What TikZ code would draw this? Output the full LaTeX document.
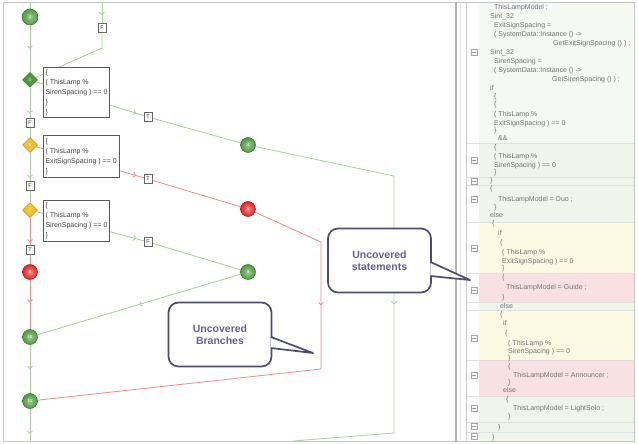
\documentclass[tikz,border=0pt]{standalone}
\usepackage{fontspec}
\setmainfont{Liberation Sans}
\usetikzlibrary{shapes.geometric,arrows.meta,decorations.markings}
\definecolor{okgreen}{HTML}{4E9A3E}
\definecolor{missred}{HTML}{E02424}
\definecolor{condyellow}{HTML}{F2C12E}
\definecolor{okline}{HTML}{A9CF9C}
\definecolor{missline}{HTML}{E88C8C}
\definecolor{codegray}{HTML}{737373}
\definecolor{codetop}{HTML}{F6F8F3}
\definecolor{codebg}{HTML}{F0F5EB}
\definecolor{partbg}{HTML}{FDFAE3}
\definecolor{unbg}{HTML}{F9E1E3}
\definecolor{calloutline}{HTML}{4D4C70}
\definecolor{callouttext}{HTML}{6B5E96}
\pgfdeclarelayer{panel}
\pgfdeclarelayer{wires}
\pgfsetlayers{panel,wires,main}

\tikzset{
  flownode/.style={circle,minimum size=15pt,inner sep=0pt,line width=0.5pt,
    font=\fontsize{4.5}{5}\selectfont,text=white},
  hitnode/.style={flownode,inner color=okgreen!55!white,outer color=okgreen,draw=okgreen!75!black},
  missnode/.style={flownode,inner color=missred!55!white,outer color=missred,draw=missred!75!black},
  decision/.style={diamond,minimum size=15pt,inner sep=0pt,line width=0.5pt,
    fill=#1,draw=#1!70!black,font=\fontsize{4.5}{5}\selectfont,text=white},
  condbox/.style={rectangle,draw=black!65,fill=white,line width=0.7pt,
    anchor=north west,align=left,inner xsep=2.2pt,inner ysep=1.5pt,
    minimum height=#1,font=\fontsize{7}{10}\selectfont,text=black!75},
  branchtag/.style={rectangle,draw=black!60,fill=white,line width=0.5pt,
    minimum width=8pt,minimum height=9pt,inner sep=0pt,
    font=\fontsize{5.5}{6}\selectfont,text=black!80},
  hitline/.style={draw=okline,line width=0.8pt},
  missline/.style={draw=missline,line width=0.8pt},
  midmark/.style={postaction={decorate},decoration={markings,
    mark=at position #1 with {\arrow{Straight Barb[length=2.4pt,width=5pt,line width=0.8pt]}}}},
  callout/.style={draw=calloutline,line width=1.7pt,fill=white,rounded corners=10pt,
    minimum width=103pt,minimum height=64pt,align=center,
    font=\bfseries\fontsize{10.5}{12}\selectfont,text=callouttext},
  pointer/.style={draw=calloutline,line width=1.7pt,fill=white,line join=round},
  codeline/.style={anchor=base west,yshift=-2.5pt,inner sep=0pt,
    font=\fontsize{7}{8}\selectfont,text=codegray},
  foldmark/.style={rectangle,draw=black!35,fill=white,minimum size=6.5pt,inner sep=0pt,line width=0.4pt,
    path picture={\draw[black!40,line width=0.4pt] ([xshift=1.5pt]path picture bounding box.west)
      -- ([xshift=-1.5pt]path picture bounding box.east);}}
}

\begin{document}
\begin{tikzpicture}[x=1pt,y=-1pt]
  \useasboundingbox (0,0) rectangle (638,444);

  % panels
  \begin{pgfonlayer}{panel}
    \fill[white] (0,0) rectangle (638,444);
    \foreach \ya/\yb/\bg in {3/143/codetop,143/222/codebg,222/273/partbg,273/302/unbg,
        302/310/codebg,310/360/partbg,360/396/unbg,396/441/codebg}
      \fill[\bg] (479,\ya) rectangle (634,\yb);
    \foreach \y in {143,177,185,222,273,302,310,360,396,422,432}
      \draw[black!12,line width=0.5pt] (466,\y) -- (634,\y);
    \draw[black!22,line width=0.6pt] (3.5,2.5) rectangle (634.5,441.5);
    \draw[black!30,line width=2pt] (455.5,2.5) -- (455.5,441.5);
    \draw[black!12,line width=0.5pt] (460.5,2.5) -- (460.5,441.5);
    \draw[black!20,line width=0.5pt] (466,2.5) -- (466,441.5);
  \end{pgfonlayer}

  % flow graph
  \coordinate (entry2) at (30,3);
  \coordinate (entryF) at (102,3);
  \coordinate (bendF) at (102,48);
  \node[hitnode,minimum size=16pt] (n2) at (30,17) {2};
  \node[branchtag] (lF1) at (102,28) {F};
  \node[decision=okgreen] (d3) at (30,80) {3};
  \node[condbox=50pt] (box1) at (43,67) {\{\\( ThisLamp \%\\SirenSpacing ) == 0\\\}\\\}};
  \node[branchtag] (lT1) at (148,117) {T};
  \node[hitnode] (n4) at (248,145) {4};
  \coordinate (c4a) at (394,176);
  \coordinate (c4b) at (394,433);
  \coordinate (exit4) at (293,441);

  \node[branchtag] (lF2) at (30,123) {F};
  \node[decision=condyellow] (d5) at (30,145) {5};
  \node[condbox=42pt] (box2) at (43,135) {\{\\( ThisLamp \%\\ExitSignSpacing ) == 0\\\}};
  \node[branchtag] (lT2) at (148,179) {T};
  \node[missnode] (n6) at (248,209) {6};
  \coordinate (c6a) at (321,242);
  \coordinate (c6b) at (321,369);

  \node[branchtag] (lF3) at (30,186) {F};
  \node[decision=condyellow] (d7) at (30,210) {7};
  \node[condbox=41pt] (box3) at (43,200) {\{\\( ThisLamp \%\\SirenSpacing ) == 0\\\}};
  \node[branchtag] (lF4) at (148,242) {F};
  \node[hitnode] (n9) at (248,272) {9};

  \node[branchtag] (lT3) at (30,250) {T};
  \node[missnode] (n8) at (30,272) {8};
  \node[hitnode] (n10) at (30,337) {10};
  \node[hitnode] (n11) at (30,401) {11};
  \coordinate (exit11) at (30,441);

  \begin{pgfonlayer}{wires}
    \draw[hitline] (entry2) -- (n2);
    \draw[hitline,midmark=0.5] (n2) -- (d3);
    \draw[hitline,midmark=0.6] (entryF) -- (lF1);
    \draw[hitline] (lF1) -- (bendF) -- (d3);
    \draw[hitline,midmark=0.85] (d3) -- (lF2);
    \draw[hitline] (lF2) -- (d5);
    \draw[hitline,midmark=0.88] (d5) -- (lF3);
    \draw[hitline] (lF3) -- (d7);
    \draw[missline,midmark=0.9] (d7) -- (lT3);
    \draw[missline] (lT3) -- (n8);
    \draw[missline,midmark=0.46] (n8) -- (n10);
    \draw[hitline,midmark=0.5] (n10) -- (n11);
    \draw[hitline,midmark=0.78] (n11) -- (exit11);
    \draw[hitline,midmark=0.93] (d3) -- (lT1);
    \draw[hitline] (lT1) -- (n4);
    \draw[hitline,midmark=0.54] (n4) -- (c4a) -- (c4b) -- (exit4);
    \draw[missline,midmark=0.93] (d5) -- (lT2);
    \draw[missline] (lT2) -- (n6);
    \draw[missline,midmark=0.28] (n6) -- (c6a) -- (c6b) -- (n11);
    \draw[hitline,midmark=0.93] (d7) -- (lF4);
    \draw[hitline] (lF4) -- (n9);
    \draw[hitline,midmark=0.5] (n9) -- (n10);
  \end{pgfonlayer}

  % callouts
  \node[callout] (stmts) at (379.5,260.5) {Uncovered\\statements};
  \coordinate (stmtsTip) at (470,280);
  \draw[pointer] ([xshift=-1.5pt,yshift=-1.5pt]stmts.east) -- (stmtsTip)
    -- ([xshift=-1.5pt,yshift=-15.5pt]stmts.east);
  \node[callout] (branches) at (220,334.5) {Uncovered\\Branches};
  \coordinate (branchesTip) at (313,353);
  \draw[pointer] ([xshift=-1.5pt,yshift=-2.5pt]branches.east) -- (branchesTip)
    -- ([xshift=-1.5pt,yshift=-13.5pt]branches.east);

  % code listing
  \foreach \y/\x/\txt [count=\i] in {
      7/494/ThisLampModel ;, 16/490/Sint\_32, 25/494/ExitSignSpacing =,
      34/494/( SystemData::Instance () ->, 43/553/GetExitSignSpacing () ) ;,
      52/490/Sint\_32, 61/494/SirenSpacing =, 70/494/( SystemData::Instance () ->,
      79/552/GetSirenSpacing () ) ;, 88/490/if, 96/494/\{, 104/494/\{,
      114/494/( ThisLamp \%, 123/494/ExitSignSpacing ) == 0, 130/494/\}, 138/498/\&\&,
      147/494/\{, 156/494/( ThisLamp \%, 165/494/SirenSpacing ) == 0, 172/494/\},
      180/490/\}, 188/490/\{, 199/498/ThisLampModel = Duo ;, 207/494/\}, 215/490/else,
      223/492/\{, 233/498/if, 242/500/\{, 252/502/( ThisLamp \%,
      261/502/ExitSignSpacing ) == 0, 268/502/\}, 277/502/\{,
      287/506/ThisLampModel = Guide ;, 297/502/\}, 306/500/else, 314/500/\{,
      323/503/if, 333/505/\{, 343/508/( ThisLamp \%, 351/508/SirenSpacing ) == 0,
      358/508/\}, 366/508/\{, 375/513/ThisLampModel = Announcer ;, 382/508/\},
      390/503/else, 399/506/\{, 408/513/ThisLampModel = LightSolo ;, 416/508/\},
      427/498/\}, 437/492/\}
    }
    \node[codeline] (code\i) at (\x,\y) {\txt};
  \foreach \y [count=\i] in {52,160,181,199,248,290,338,375,408,426,436}
    \node[foldmark] (fold\i) at (474,\y) {};
\end{tikzpicture}
\end{document}
